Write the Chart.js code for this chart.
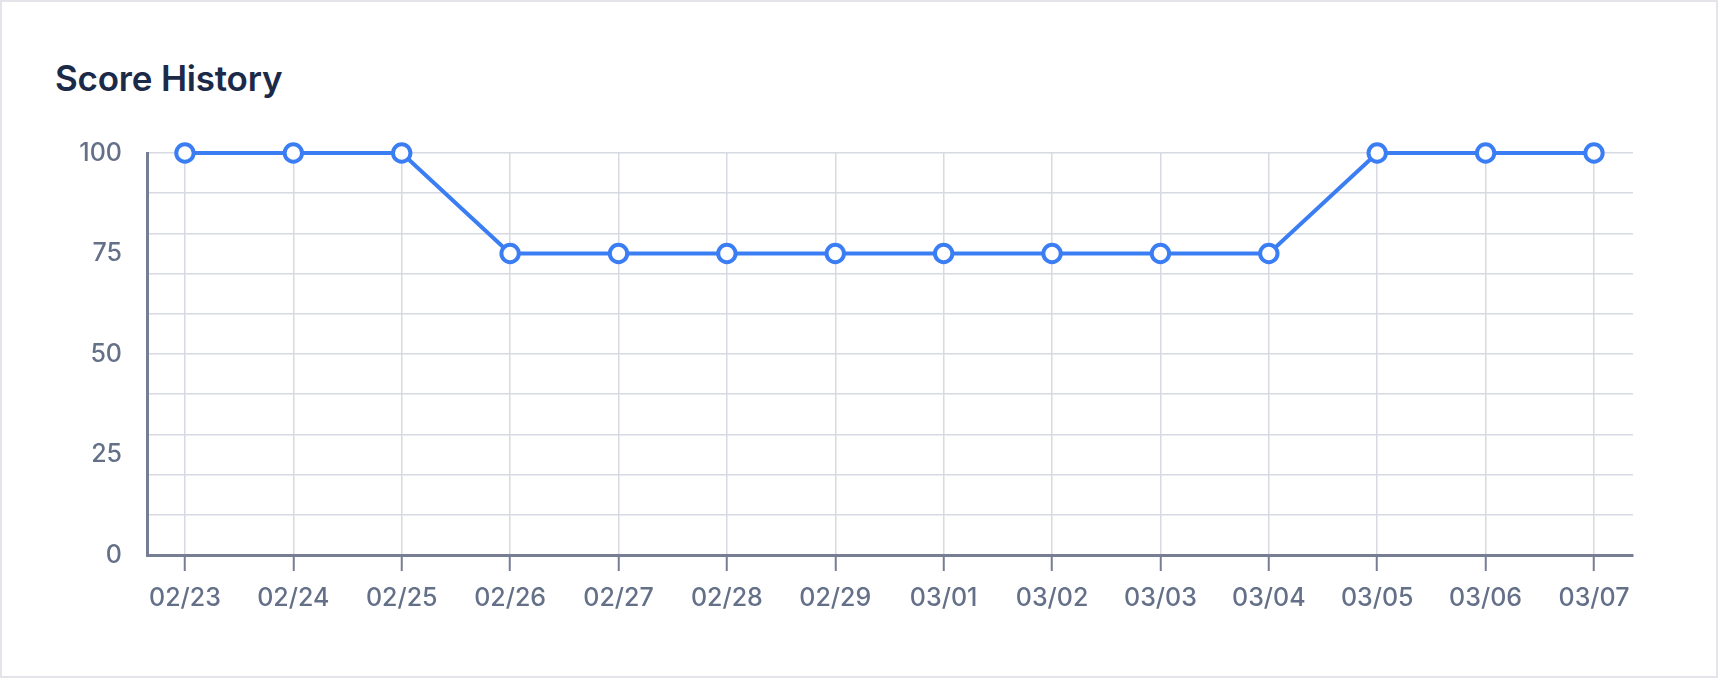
<!DOCTYPE html>
<html>
<head>
<meta charset="utf-8">
<script src="https://cdn.jsdelivr.net/npm/chart.js@4"></script>
<style>
  html, body { margin: 0; padding: 0; background: #fff; }
  #card {
    position: relative; width: 1718px; height: 678px; box-sizing: border-box;
    border: 2px solid #e3e5ea; background: #fff; overflow: hidden;
  }
  #title {
    position: absolute; left: 53px; top: 55px; margin: 0;
    font-family: Inter, "Noto Sans", sans-serif; font-weight: 600; font-size: 35px;
    color: #1c2a4a; letter-spacing: -0.2px;
  }
  #wrap { position: absolute; left: -2px; top: -2px; width: 1718px; height: 678px; }
</style>
</head>
<body>
<div id="card">
  <h2 id="title">Score History</h2>
  <div id="wrap"><canvas id="c"></canvas></div>
</div>
<script>
const dateLabels = ["02/23","02/24","02/25","02/26","02/27","02/28","02/29","03/01","03/02","03/03","03/04","03/05","03/06","03/07"];
const scores = [100,100,100,75,75,75,75,75,75,75,75,100,100,100];
const yLabelTicks = [0,25,50,75,100];
const yGridTicks = [0,10,20,30,40,50,60,70,80,90,100];

const blue = '#3b7ef4';
const axisGray = '#757e92';
const gridGray = '#d7dae2';
const labelGray = '#647088';
const tickFont = { family: 'Inter', size: 25, weight: '500' };

new Chart(document.getElementById('c'), {
  type: 'line',
  data: {
    datasets: [{
      data: scores.map((v, i) => ({ x: i, y: v })),
      borderColor: blue,
      borderWidth: 4,
      pointRadius: 8.7,
      pointHoverRadius: 8.7,
      pointBorderWidth: 4,
      pointBackgroundColor: '#ffffff',
      pointBorderColor: blue,
      tension: 0,
      clip: false
    }]
  },
  options: {
    responsive: true,
    maintainAspectRatio: false,
    animation: false,
    layout: { padding: { left: 0, right: 85, top: 153, bottom: 60 } },
    plugins: { legend: { display: false }, tooltip: { enabled: false } },
    scales: {
      x: {
        type: 'linear',
        min: -0.35,
        max: 13.36,
        afterBuildTicks: (s) => { s.ticks = dateLabels.map((_, i) => ({ value: i })); },
        ticks: {
          autoSkip: false,
          maxRotation: 0,
          padding: 12,
          color: labelGray,
          font: tickFont,
          callback: (v) => dateLabels[v]
        },
        grid: { color: gridGray, lineWidth: 1.5, tickColor: axisGray, tickLength: 16, tickWidth: 2 },
        border: { display: true, color: axisGray, width: 3 },
        afterFit: (s) => { s.height = 63; }
      },
      y: {
        position: 'left',
        min: 0, max: 100,
        afterBuildTicks: (s) => { s.ticks = yLabelTicks.map(v => ({ value: v })); },
        ticks: { padding: 25, color: labelGray, font: tickFont },
        grid: { display: false, drawTicks: false },
        border: { display: true, color: axisGray, width: 3 },
        afterFit: (s) => { s.width = 147; }
      },
      yGrid: {
        position: 'right',
        min: 0, max: 100,
        afterBuildTicks: (s) => { s.ticks = yGridTicks.map(v => ({ value: v })); },
        ticks: { display: false },
        grid: { color: gridGray, lineWidth: 1.5, drawTicks: false },
        border: { display: false },
        afterFit: (s) => { s.width = 0; }
      }
    }
  }
});
</script>
</body>
</html>
